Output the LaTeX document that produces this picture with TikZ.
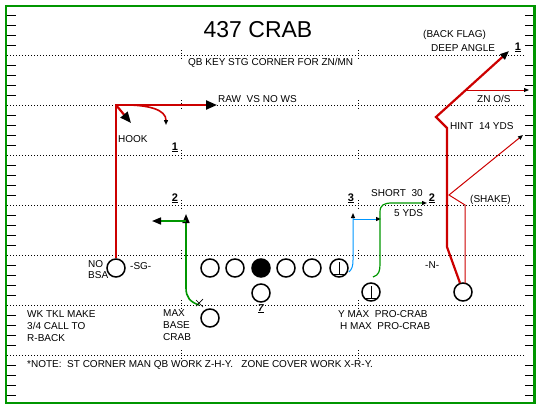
\documentclass[tikz,border=0pt]{standalone}
\usepackage{fontspec}
\setmainfont{Liberation Sans}
\usetikzlibrary{arrows.meta}
\definecolor{fred}{RGB}{204,0,0}
\definecolor{fgreen}{RGB}{0,150,0}
\definecolor{fblue}{RGB}{0,150,255}
\begin{document}
\begin{tikzpicture}[x=1pt,y=-1pt,
  txt/.style={anchor=base west,inner sep=0pt,font=\fontsize{10}{12}\selectfont},
  num/.style={anchor=base,inner sep=0pt,font=\fontsize{11}{12}\selectfont\bfseries},
  player/.style={circle,draw,line width=1.5pt,minimum size=18pt,inner sep=0pt},
  yardline/.style={line width=0.9pt,dash pattern=on 1pt off 2pt},
  hashline/.style={line width=0.9pt,dash pattern=on 1pt off 1.5pt},
  tickline/.style={line width=0.9pt},
  redthick/.style={draw=fred,line width=2.2pt},
  redthin/.style={draw=fred,line width=1pt},
  greenroute/.style={draw=fgreen,line width=1.6pt},
  blueroute/.style={draw=fblue,line width=1pt},
  bigtip/.style={-{Triangle[length=11pt,width=9pt,color=black]}},
  midtip/.style={-{Triangle[length=9pt,width=7pt,color=black]}},
  smalltip/.style={-{Triangle[length=5pt,width=4pt,color=black]}}
]
\useasboundingbox (0,0) rectangle (541,410);
% border
\draw[fgreen,line width=2.2pt] (6,6) rectangle (534.5,403);
% ticks
\foreach \y in {15,25,...,395}{
  \pgfmathtruncatemacro{\r}{mod(\y-5,50)}
  \ifnum\r=0\relax\else
    \draw[tickline] (7,\y) -- (16,\y);
    \draw[tickline] (525,\y) -- (533,\y);
  \fi
}
% yard lines
\foreach \y in {55,105,...,355}{
  \draw[yardline] (7,\y) -- (524,\y);
  \draw[hashline] (181,\y-5) -- (181,\y+5);
  \draw[hashline] (358,\y-5) -- (358,\y+5);
}
% title
\node[anchor=base,inner sep=0pt,font=\fontsize{23}{25}\selectfont] (title) at (258,37) {437 CRAB};
% texts
\node[txt] (t1) at (188,65) {QB KEY STG CORNER FOR ZN/MN};
\node[txt] (t2) at (218,102) {RAW\ \ VS NO WS};
\node[txt] (t3) at (423,37) {(BACK FLAG)};
\node[txt] (t4) at (431,51) {DEEP ANGLE};
\node[txt] (t5) at (477,102) {ZN O/S};
\node[txt] (t6) at (450,129) {HINT\ \ 14 YDS};
\node[txt] (t7) at (118,142) {HOOK};
\node[txt] (t8) at (371,196) {SHORT\ \ 30};
\node[txt] (t9) at (394,216) {5 YDS};
\node[txt] (t10) at (470,202) {(SHAKE)};
\node[txt] (t11) at (88,267) {NO};
\node[txt] (t12) at (88,278) {BSA};
\node[txt] (t13) at (130,269) {-SG-};
\node[txt] (t14) at (425,268) {-N-};
\node[txt] (t15) at (27,317) {WK TKL MAKE};
\node[txt] (t16) at (27,329) {3/4 CALL TO};
\node[txt] (t17) at (27,341) {R-BACK};
\node[txt] (t18) at (163,316) {MAX};
\node[txt] (t19) at (163,328) {BASE};
\node[txt] (t20) at (163,340) {CRAB};
\node[txt] (t21) at (338,317) {Y MAX\ \ PRO-CRAB};
\node[txt] (t22) at (340,329) {H MAX\ \ PRO-CRAB};
\node[txt] (t23) at (27,367) {*NOTE:\ \ ST CORNER MAN QB WORK Z-H-Y.\ \ \ ZONE COVER WORK X-R-Y.};
% numbers
\node[num] (n1a) at (518,50) {\underline{1}};
\node[num] (n1b) at (175,150) {\underline{1}};
\node[num] (n2a) at (175,201) {\underline{2}};
\node[num] (n3) at (351,201) {\underline{3}};
\node[num] (n2b) at (432,201) {\underline{2}};
\node[num,font=\fontsize{10}{12}\selectfont\bfseries\itshape] (n7) at (261,311) {\underline{7}};
% players
\node[player] (wrl) at (116,268) {};
\node[player] (ol1) at (210,268) {};
\node[player] (ol2) at (235,268) {};
\node[player,fill=black] (ctr) at (261,268) {};
\node[player] (ol3) at (286,268) {};
\node[player] (ol4) at (312,268) {};
\node[player] (te) at (339,268) {};
\node[player] (qb) at (261,293) {};
\node[player] (rb) at (210,318) {};
\node[player] (yr) at (371,292) {};
\node[player] (wrr) at (463,292) {};
\draw[line width=1pt] (te.center) ++(0,-6) -- ++(0,12) ++(-6,0) -- ++(12,0);
\draw[line width=1pt] (yr.center) ++(0,-6) -- ++(0,12) ++(-6,0) -- ++(12,0);
% left WR route
\coordinate (lc) at (116,105);
\coordinate (lraw) at (217,105);
\draw[redthick,bigtip] (wrl.north) -- (lc) -- (lraw);
\coordinate (lhook) at (131,123);
\draw[redthick,bigtip] (lc) -- (lhook);
\coordinate (lcurl) at (166,125);
\draw[draw=fred,line width=1.6pt,smalltip] (lc) .. controls (150,104) and (166,110) .. (lcurl);
% RB route
\coordinate (rbs) at (199,305);
\coordinate (rbu) at (186,214);
\coordinate (rbc) at (186,221);
\coordinate (rbl) at (152,221);
\draw[greenroute,midtip] (rbs) .. controls (190,302) and (186,297) .. (186,288) -- (rbu);
\draw[greenroute,midtip] (rbc) -- (rbl);
\draw[line width=0.7pt] (196,300) -- (203,307) (196,306) -- (203,299);
% TE route
\coordinate (tes) at (349,272);
\coordinate (teu) at (353,213);
\coordinate (tec) at (353,219);
\coordinate (ter) at (381,219);
\draw[blueroute,smalltip] (tes) .. controls (352,269) and (353,266) .. (353,260) -- (teu);
\draw[blueroute,smalltip] (tec) -- (ter);
% Y route
\coordinate (ys) at (373,277);
\coordinate (ye) at (427,203);
\draw[greenroute,line width=1.2pt,smalltip] (ys) .. controls (379,275) and (380,271) .. (380,264) -- (380,212) .. controls (380,205) and (384,203) .. (392,203) -- (ye);
% right WR deep angle
\coordinate (r1) at (447,247);
\coordinate (r2) at (447,128);
\coordinate (r3) at (436,117);
\coordinate (r4) at (509,51);
\draw[redthick,midtip] (460,283) -- (r1) -- (r2) -- (r3) -- (r4);
\coordinate (zs) at (466,90);
\coordinate (ze) at (529,90);
\draw[redthin,smalltip] (zs) -- (ze);
% shake
\coordinate (s1) at (465,205);
\coordinate (s2) at (449,195);
\coordinate (s3) at (523,135);
\draw[redthin,smalltip] (465,283) -- (s1) -- (s2) -- (s3);
\end{tikzpicture}
\end{document}
